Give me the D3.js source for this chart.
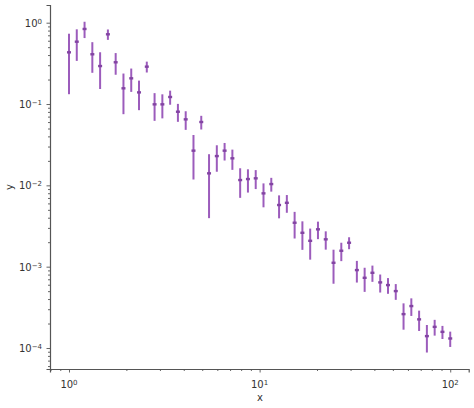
<!DOCTYPE html>
<html>
<head>
<meta charset="utf-8">
<script src="https://cdn.jsdelivr.net/npm/d3@7"></script>
<style>
  body { margin: 0; background: #fff; }
  svg text { font-family: "DejaVu Sans", sans-serif; fill: #333; }
</style>
</head>
<body>
<svg id="chart"></svg>
<script>
var xValues = [1.0, 1.0985, 1.2068, 1.3257, 1.4563, 1.5999, 1.7575, 1.9307, 2.1210, 2.3300,
  2.5595, 2.8118, 3.0888, 3.3932, 3.7276, 4.0949, 4.4984, 4.9417, 5.4287, 5.9636,
  6.5513, 7.1969, 7.9060, 8.6851, 9.5410, 10.481, 11.514, 12.649, 13.895, 15.264,
  16.768, 18.421, 20.236, 22.230, 24.421, 26.827, 29.471, 32.375, 35.565, 39.070,
  42.919, 47.149, 51.795, 56.899, 62.506, 68.665, 75.431, 82.864, 91.030, 100];

var yValues = [0.432, 0.584, 0.837, 0.409, 0.293, 0.72, 0.326, 0.156, 0.207, 0.139,
  0.288, 0.0991, 0.0991, 0.122, 0.0804, 0.0648, 0.0267, 0.0601, 0.01405, 0.0229,
  0.0267, 0.0215, 0.01162, 0.01195, 0.0122, 0.00797, 0.01037, 0.00573, 0.0061, 0.00347,
  0.00261, 0.00208, 0.00288, 0.00217, 0.001117, 0.00157, 0.00197, 0.000908, 0.00073, 0.000841,
  0.000641, 0.000594, 0.000501, 0.000261, 0.000328, 0.000225, 0.00014, 0.000182, 0.000158, 0.000131];

var yErrors = [0.30, 0.245, 0.19, 0.167, 0.14, 0.105, 0.097, 0.081, 0.066, 0.055,
  0.044, 0.037, 0.0325, 0.024, 0.02, 0.0167, 0.0149, 0.0115, 0.0101, 0.0082,
  0.0065, 0.006, 0.0046, 0.0038, 0.0032, 0.0026, 0.002, 0.0018, 0.0015, 0.00125,
  0.001, 0.00086, 0.0007, 0.00055, 0.0005, 0.0004, 0.00033, 0.00027, 0.00024, 0.00019,
  0.00016, 0.00013, 0.00011, 0.000093, 0.00008, 0.000063, 0.000052, 0.00004, 0.000029, 0.000028];

var xTicks = [1, 10, 100];
var yTicks = [1e-4, 1e-3, 1e-2, 1e-1, 1];
var xLabel = "x", yLabel = "y";

var width = 474, height = 408;
var plotLeft = 50, plotRight = 468.7, plotTop = 5, plotBottom = 369;
var barColor = "#9c5cbc", dotColor = "#8344a3", axisColor = "#555";

var svg = d3.select("#chart").attr("width", width).attr("height", height);

var x = d3.scaleLog().domain([0.795, 125]).range([plotLeft, plotRight]);
var y = d3.scaleLog().domain([5.52e-5, 1.65]).range([plotBottom, plotTop]);

function minorTicks(domain) {
  var out = [];
  var lo = Math.floor(Math.log10(domain[0])), hi = Math.ceil(Math.log10(domain[1]));
  for (var p = lo; p <= hi; p++) {
    for (var m = 2; m <= 9; m++) {
      var v = m * Math.pow(10, p);
      if (v >= domain[0] && v <= domain[1]) out.push(v);
    }
  }
  return out;
}

function powLabel(sel) {
  sel.each(function(d) {
    var t = d3.select(this);
    var e = Math.round(Math.log10(d));
    t.text("10");
    t.append("tspan").attr("dy", "-0.45em").attr("font-size", "7px")
      .text(String(e).replace("-", "\u2212"));
  });
}

// error bars
var pts = svg.append("g").selectAll("g").data(xValues).enter().append("g");

pts.append("line")
  .attr("x1", function(d) { return x(d); })
  .attr("x2", function(d) { return x(d); })
  .attr("y1", function(d, i) { return y(yValues[i] + yErrors[i]); })
  .attr("y2", function(d, i) { return y(Math.max(yValues[i] - yErrors[i], 1e-9)); })
  .attr("stroke", barColor)
  .attr("stroke-width", 2);

pts.append("rect")
  .attr("x", function(d) { return x(d) - 2; })
  .attr("y", function(d, i) { return y(yValues[i]) - 1.2; })
  .attr("width", 4)
  .attr("height", 2.4)
  .attr("fill", dotColor);

// axes
var xAxis = d3.axisBottom(x).tickValues(xTicks).tickSize(3.5).tickFormat("");
var yAxis = d3.axisLeft(y).tickValues(yTicks).tickSize(3.5).tickFormat("");

svg.append("g").attr("transform", "translate(0," + plotBottom + ")").call(xAxis);
svg.append("g").attr("transform", "translate(" + plotLeft + ",0)").call(yAxis);

svg.append("g").attr("transform", "translate(0," + plotBottom + ")")
  .call(d3.axisBottom(x).tickValues(minorTicks(x.domain())).tickSize(2).tickFormat(""))
  .call(function(g) { g.select(".domain").remove(); });
svg.append("g").attr("transform", "translate(" + plotLeft + ",0)")
  .call(d3.axisLeft(y).tickValues(minorTicks(y.domain())).tickSize(2).tickFormat(""))
  .call(function(g) { g.select(".domain").remove(); });

svg.selectAll(".domain").attr("stroke", axisColor).attr("stroke-width", 1.2);
svg.selectAll(".tick line").attr("stroke", axisColor).attr("stroke-width", 0.9);
svg.selectAll(".tick text").remove();

svg.append("g").selectAll("text").data(xTicks).enter().append("text")
  .attr("x", function(d) { return x(d); })
  .attr("y", plotBottom + 19)
  .attr("text-anchor", "middle")
  .attr("font-size", "10px")
  .call(powLabel);

svg.append("g").selectAll("text").data(yTicks).enter().append("text")
  .attr("x", plotLeft - 8)
  .attr("y", function(d) { return y(d) + 4; })
  .attr("text-anchor", "end")
  .attr("font-size", "10px")
  .call(powLabel);

svg.append("text")
  .attr("x", (plotLeft + plotRight) / 2 + 0.5)
  .attr("y", 401)
  .attr("text-anchor", "middle")
  .attr("font-size", "10px")
  .text(xLabel);

svg.append("text")
  .attr("transform", "translate(13," + (plotTop + plotBottom) / 2 + ") rotate(-90)")
  .attr("text-anchor", "middle")
  .attr("font-size", "10px")
  .text(yLabel);
</script>
</body>
</html>
